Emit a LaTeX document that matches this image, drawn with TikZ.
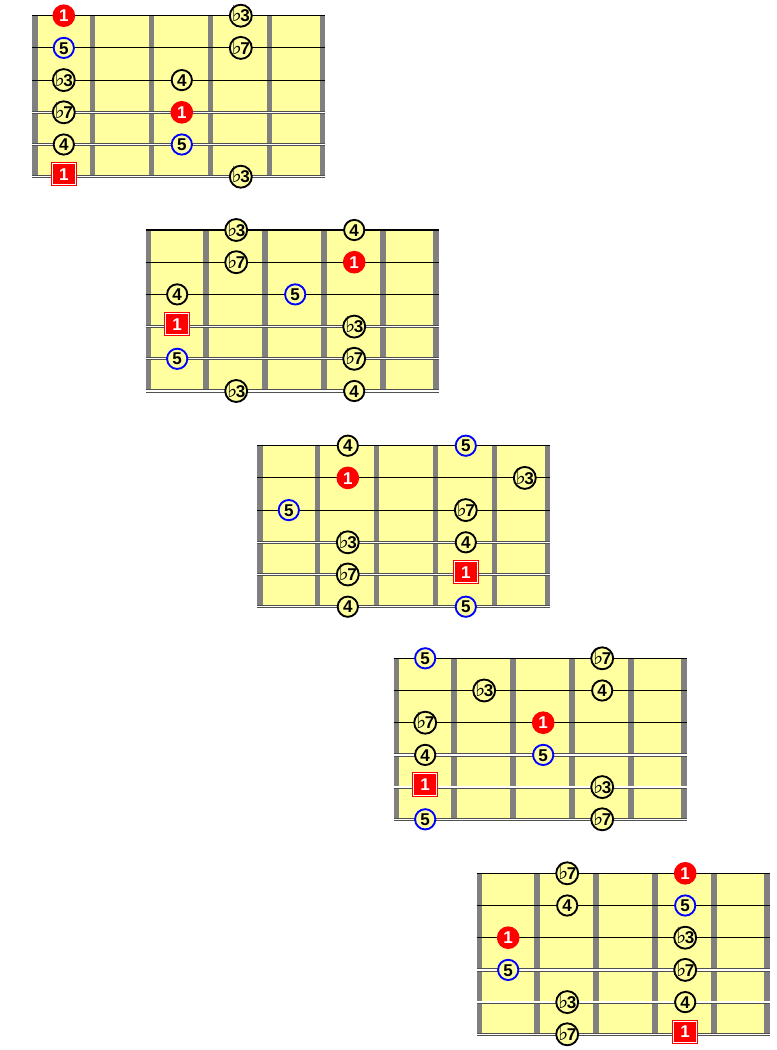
\documentclass[tikz,border=0pt]{standalone}
\usepackage{fontspec}
\setmainfont{Liberation Sans}
\newfontfamily\flatfont{DejaVu Sans}
\definecolor{boardc}{RGB}{255,255,160}
\definecolor{barc}{RGB}{128,128,128}
\definecolor{woundc}{RGB}{80,80,80}
\definecolor{rootc}{RGB}{255,0,0}
\definecolor{fifthc}{RGB}{0,0,255}
\newcommand\fl{{\flatfont\bfseries\fontsize{16.5}{16.5}\selectfont ♭}\kern-1.2pt}
\newcommand\fretboard[2]{%
  \begin{scope}[shift={(#1,#2)}]
    \fill[boardc] (0,0) rectangle (293,161);
    \foreach \b in {0,57.7,116.7,175.7,234.7,287.7}
      \fill[barc] (\b,0) rectangle ++(5.3,161);
    \foreach \s in {0,32.2,64.4}
      \draw[thinstr] (0,\s) -- (293,\s);
    \foreach \s in {96.6,128.8,161}{
      \draw[woundout] (0,\s) -- (293,\s);
      \draw[woundin] (0,\s) -- (293,\s);}
  \end{scope}}
\begin{document}
\begin{tikzpicture}[x=0.75pt,y=-0.75pt,
  thinstr/.style={draw=black,line width=0.8pt},
  woundout/.style={draw=woundc,line width=2.4pt},
  woundin/.style={draw=white,line width=1.0pt},
  notebase/.style={inner sep=0pt,outer sep=0pt,
    font=\fontsize{12.8}{12.8}\selectfont\bfseries,
    text height=9.2pt,text depth=0pt},
  nt/.style={notebase,circle,minimum size=15.2pt,fill=boardc,draw=black,line width=1.4pt,text=black},
  fv/.style={nt,draw=fifthc},
  rt/.style={notebase,circle,minimum size=17pt,fill=rootc,text=white},
  sq/.style={notebase,rectangle,minimum width=17.2pt,minimum height=16pt,fill=rootc,
    draw=rootc,double=white,double distance=0.8pt,line width=0.8pt,text=white,yshift=1.9pt}]
\useasboundingbox (0,0) rectangle (776,1050);

% diagram 1
\fretboard{32.3}{15.7}
\begin{scope}[shift={(32.3,15.7)}]
\foreach \s/\c/\st/\lab in {1/1/rt/1, 1/4/nt/\fl3, 2/1/fv/5, 2/4/nt/\fl7, 3/1/nt/\fl3, 3/3/nt/4,
  4/1/nt/\fl7, 4/3/rt/1, 5/1/nt/4, 5/3/fv/5, 6/1/sq/1, 6/4/nt/\fl3}
  \node[\st] (a-\s-\c) at ({31.5+59*(\c-1)},{32.2*(\s-1)}) {\lab};
\end{scope}

% diagram 2
\fretboard{145.7}{230}
\begin{scope}[shift={(145.7,230)}]
\foreach \s/\c/\st/\lab in {1/2/nt/\fl3, 1/4/nt/4, 2/2/nt/\fl7, 2/4/rt/1, 3/1/nt/4, 3/3/fv/5,
  4/1/sq/1, 4/4/nt/\fl3, 5/1/fv/5, 5/4/nt/\fl7, 6/2/nt/\fl3, 6/4/nt/4}
  \node[\st] (b-\s-\c) at ({31.5+59*(\c-1)},{32.2*(\s-1)}) {\lab};
\end{scope}

% diagram 3
\fretboard{257.3}{445.7}
\begin{scope}[shift={(257.3,445.7)}]
\foreach \s/\c/\st/\lab in {1/2/nt/4, 1/4/fv/5, 2/2/rt/1, 2/5/nt/\fl3, 3/1/fv/5, 3/4/nt/\fl7,
  4/2/nt/\fl3, 4/4/nt/4, 5/2/nt/\fl7, 5/4/sq/1, 6/2/nt/4, 6/4/fv/5}
  \node[\st] (c-\s-\c) at ({31.5+59*(\c-1)},{32.2*(\s-1)}) {\lab};
\end{scope}

% diagram 4
\fretboard{393.7}{658.3}
\begin{scope}[shift={(393.7,658.3)}]
\foreach \s/\c/\st/\lab in {1/1/fv/5, 1/4/nt/\fl7, 2/2/nt/\fl3, 2/4/nt/4, 3/1/nt/\fl7, 3/3/rt/1,
  4/1/nt/4, 4/3/fv/5, 5/1/sq/1, 5/4/nt/\fl3, 6/1/fv/5, 6/4/nt/\fl7}
  \node[\st] (d-\s-\c) at ({31.5+59*(\c-1)},{32.2*(\s-1)}) {\lab};
\end{scope}

% diagram 5
\fretboard{476.7}{873.3}
\begin{scope}[shift={(476.7,873.3)}]
\foreach \s/\c/\st/\lab in {1/2/nt/\fl7, 1/4/rt/1, 2/2/nt/4, 2/4/fv/5, 3/1/rt/1, 3/4/nt/\fl3,
  4/1/fv/5, 4/4/nt/\fl7, 5/2/nt/\fl3, 5/4/nt/4, 6/2/nt/\fl7, 6/4/sq/1}
  \node[\st] (e-\s-\c) at ({31.5+59*(\c-1)},{32.2*(\s-1)}) {\lab};
\end{scope}
\end{tikzpicture}
\end{document}
